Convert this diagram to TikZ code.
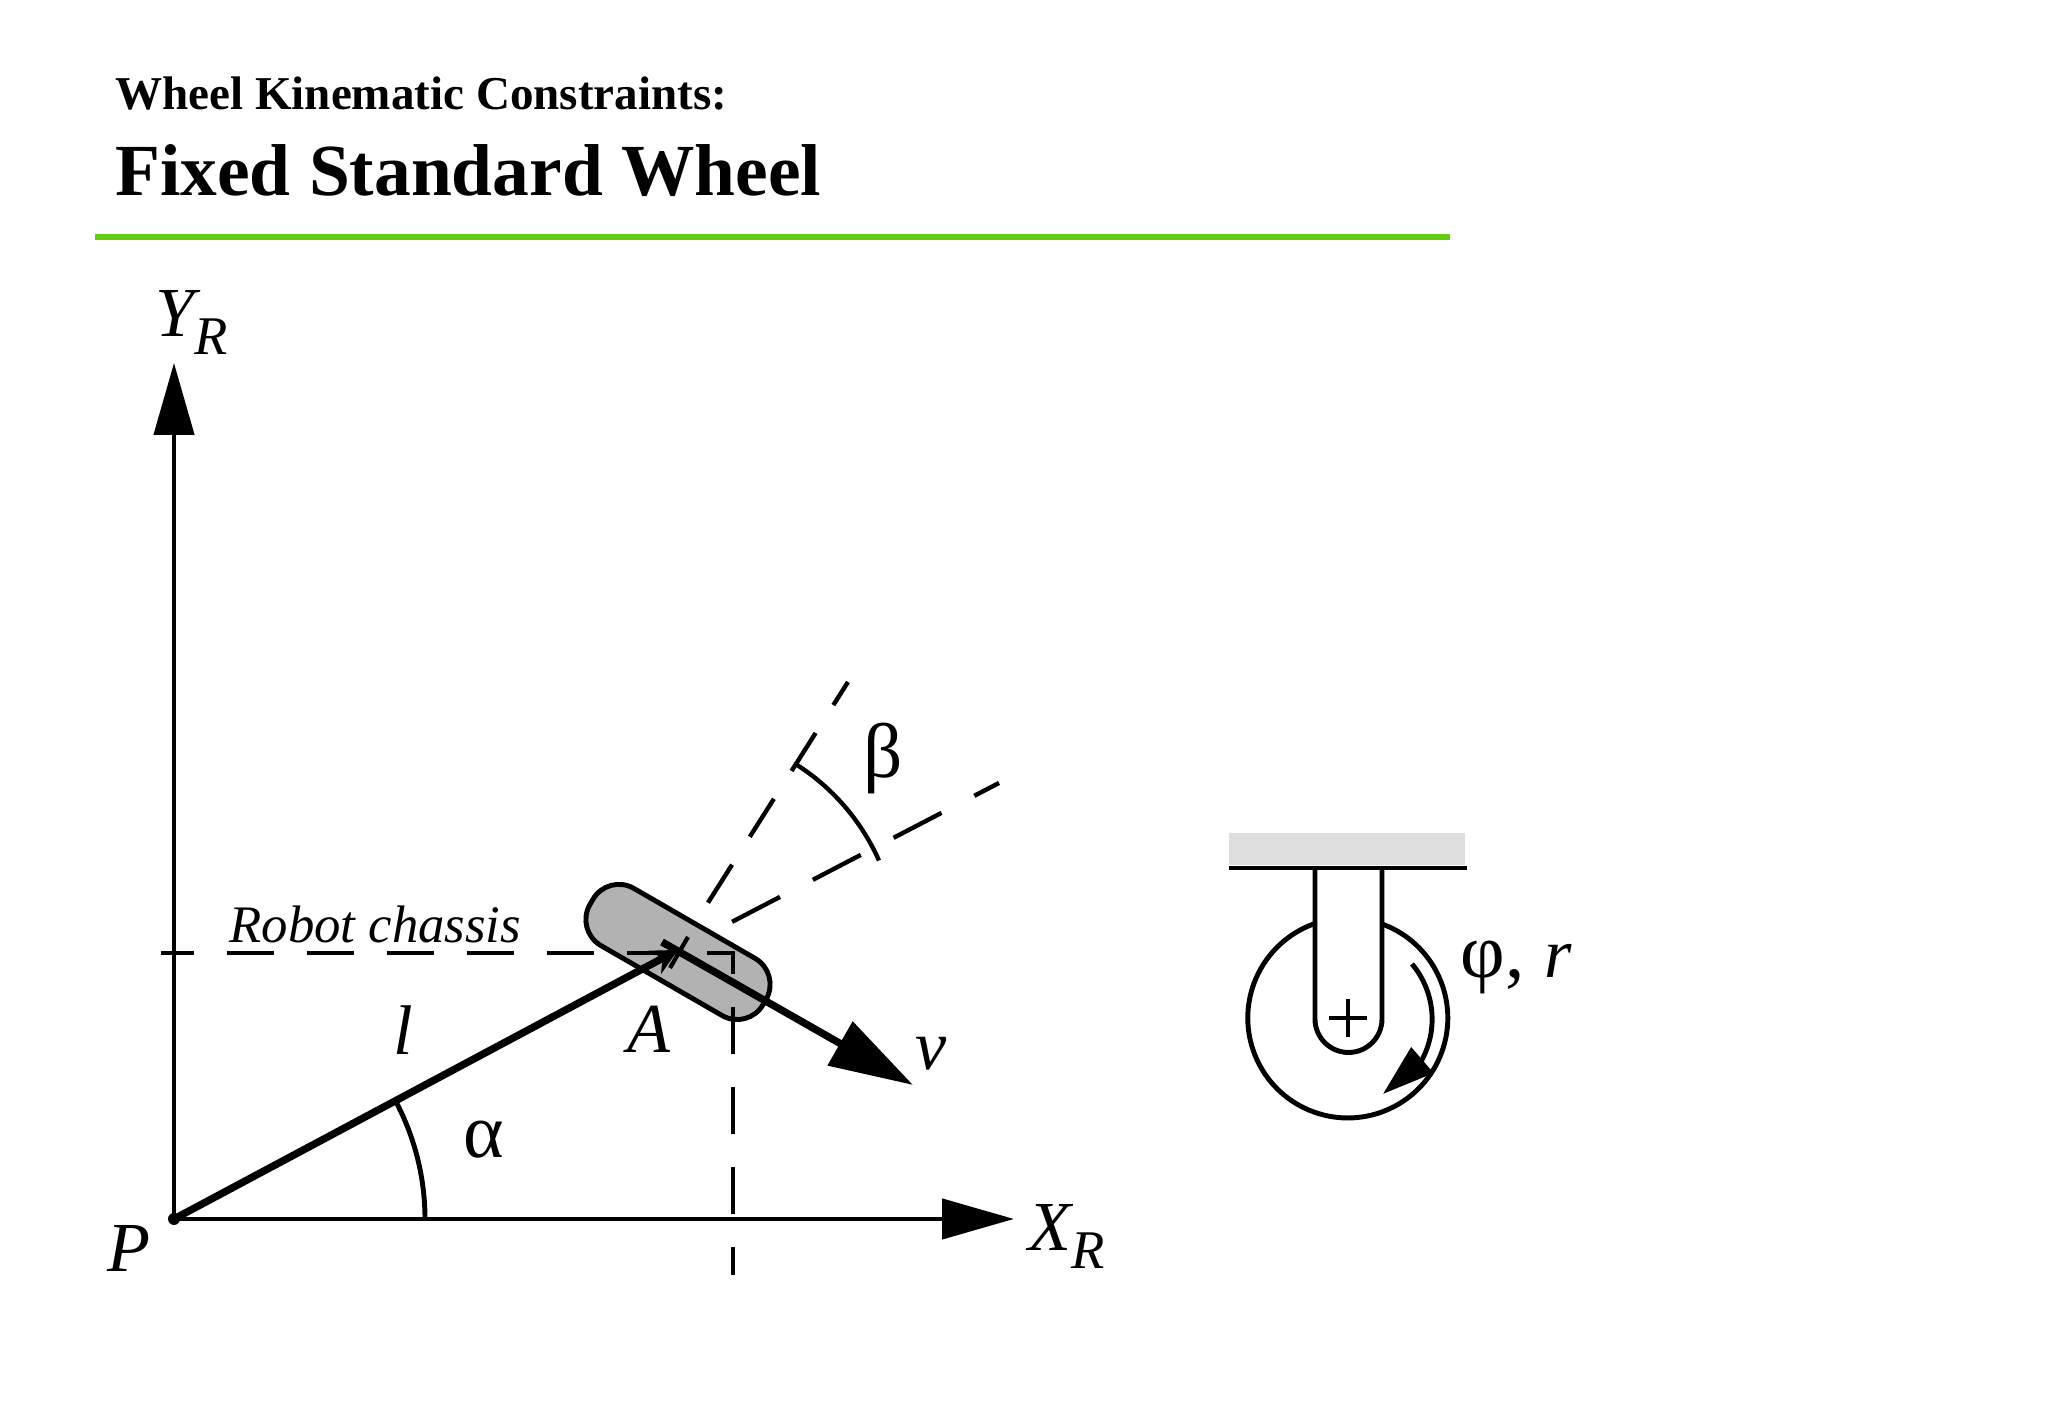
\documentclass[tikz,border=0pt]{standalone}
\usepackage{fontspec}
\setmainfont{Liberation Serif}
\usetikzlibrary{arrows.meta, calc}

\definecolor{rulegreen}{HTML}{66CC11}
\newcommand{\subR}{\raisebox{-0.18cm}{\fontsize{15.5}{18}\selectfont\itshape R}}

\tikzset{
    axis/.style={line width=1.3pt,-{Triangle[length=0.72cm,width=0.40cm]}},
    thinline/.style={line width=1.4pt},
    guide/.style={line width=1.25pt},
    lbl/.style={inner sep=0pt,anchor=base west,font=\fontsize{20}{24}\selectfont\itshape},
    greek/.style={inner sep=0pt,anchor=base west,font=\fontsize{22}{26}\selectfont},
}

\begin{document}
\begin{tikzpicture}
    \useasboundingbox (0,0) rectangle (20.48,14.18);
    \fill[white] (0,0) rectangle (20.48,14.18);

    % Titolo
    \node[inner sep=0pt,anchor=base west,font=\fontsize{13.4}{16}\selectfont\bfseries] (subtitle) at (1.145,13.08) {Wheel Kinematic Constraints:};
    \node[inner sep=0pt,anchor=base west,font=\fontsize{20.9}{25}\selectfont\bfseries] (title) at (1.145,12.22) {Fixed Standard Wheel};
    \draw[rulegreen,line width=1.7pt] (0.95,11.81) -- (14.50,11.81);

    % Punti principali
    \coordinate (P) at (1.74,1.99);
    \coordinate (A) at (6.78,4.68);
    \coordinate (xtip) at (10.14,1.99);
    \coordinate (ytip) at (1.74,10.55);
    \coordinate (vstart) at (6.62,4.76);
    \coordinate (vtip) at (9.13,3.33);
    \coordinate (hstart) at (1.61,4.65);
    \coordinate (corner) at (7.33,4.65);
    \coordinate (vend) at (7.33,1.43);
    \coordinate (rayone) at (8.48,7.36);
    \coordinate (raytwo) at (9.99,6.35);
    \coordinate (tickone) at (6.88,4.81);
    \coordinate (ticktwo) at (6.70,4.50);

    % Raggi dell'angolo
    \draw[guide,dash pattern=on 0.45cm off 0.33cm,dash phase=0.22cm] (A) -- (rayone);
    \draw[guide,dash pattern=on 0.54cm off 0.37cm,dash phase=0.30cm] (A) -- (raytwo);

    % Telaio
    \node[draw,line width=1.4pt,fill=black!30,rounded corners=0.3cm,minimum width=2.0cm,minimum height=0.66cm,rotate=-30] (chassis) at (6.78,4.66) {};

    % Proiezioni
    \draw[guide,dash pattern=on 0.47cm off 0.33cm,dash phase=0.14cm] (hstart) -- (corner) -- (vend);

    % Assi e vettori
    \draw[axis] (P) -- (xtip);
    \draw[axis] (P) -- (ytip);
    \fill (P) circle (0.06);
    \draw[line width=2.1pt,-{Stealth[length=0.26cm,width=0.26cm]}] (P) -- (A);
    \draw[line width=1.2pt] (tickone) -- (ticktwo);
    \draw[line width=2.1pt,-{Triangle[length=0.84cm,width=0.49cm]}] (vstart) -- (vtip);

    % Archi
    \draw[thinline] ($(P)+(2.51,0)$) arc (0:28:2.51);
    \draw[guide] ($(A)+(58:2.2)$) arc (58:24:2.2);

    % Etichette
    \node[lbl] (ylabel) at (1.55,10.81) {Y\subR};
    \node[lbl] (xlabel) at (10.28,1.67) {X\subR};
    \node[lbl] (plabel) at (1.07,1.46) {P};
    \node[lbl] (llabel) at (3.93,3.63) {l};
    \node[lbl] (alabel) at (6.27,3.65) {A};
    \node[lbl] (vlabel) at (9.15,3.48) {v};
    \node[greek] (alpha) at (4.63,2.60) {α};
    \node[greek] (beta) at (8.63,6.40) {β};
    \node[lbl,font=\fontsize{15}{20}\selectfont\itshape] (chassislabel) at (2.29,4.75) {Robot chassis};

    % Ruota
    \fill[black!13] (12.29,5.53) rectangle (14.65,5.85);
    \draw[thinline] (12.29,5.50) -- (14.67,5.50);
    \draw[thinline] (13.15,5.50) -- (13.15,3.99) arc (180:360:0.335) -- (13.82,5.50);
    \draw[thinline] (13.82,4.94) arc (70:-250:1.0);
    \draw[line width=1pt] (13.29,4.00) -- (13.67,4.00);
    \draw[line width=1pt] (13.48,3.81) -- (13.48,4.19);
    \coordinate (spintip) at (13.83,3.24);
    \draw[thinline,-{Triangle[length=0.52cm,width=0.33cm]}] (14.12,4.54) arc (40:-29:0.86) -- (spintip);
    \node[greek] (wheellabel) at (14.60,4.40) {φ,\hspace{0.2cm}{\fontsize{20}{24}\selectfont\textit{r}}};
\end{tikzpicture}
\end{document}
